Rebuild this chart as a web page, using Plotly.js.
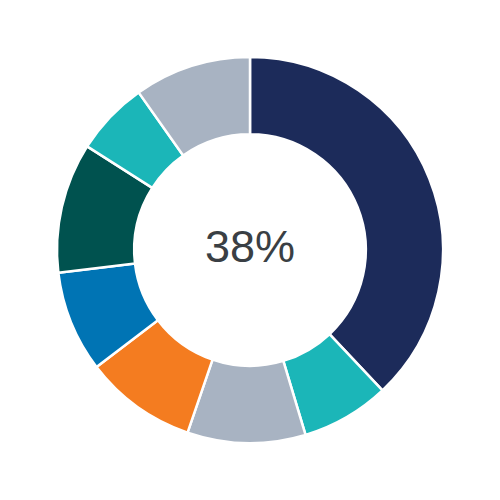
<!DOCTYPE html>
<html>
<head>
<meta charset="utf-8">
<script src="https://cdn.plot.ly/plotly-3.0.1.min.js"></script>
<style>
  html, body { margin: 0; padding: 0; background: #fff; }
  #chart { width: 500px; height: 500px; }
</style>
</head>
<body>
<div id="chart"></div>
<script>
// slice shares, clockwise from 12 o'clock
const segments = ['A', 'B', 'C', 'D', 'E', 'F', 'G', 'H'];
const shares = [38, 7.4, 9.9, 9.4, 8.5, 10.9, 6.2, 9.8];
const sliceColors = ['#1c2b5a', '#1bb6b8', '#a8b3c2', '#f47c20', '#0074b4', '#00524f', '#1bb6b8', '#a8b3c2'];
const centerLabel = '38%';

Plotly.newPlot('chart', [{
    type: 'pie',
    labels: segments,
    values: shares,
    hole: 0.6,
    sort: false,
    direction: 'clockwise',
    rotation: 0,
    textinfo: 'none',
    hoverinfo: 'none',
    marker: { colors: sliceColors, line: { color: '#ffffff', width: 2.5 } }
}], {
    width: 500,
    height: 500,
    margin: { l: 57, r: 57, t: 57, b: 57 },
    paper_bgcolor: '#ffffff',
    showlegend: false,
    annotations: [{
        text: centerLabel,
        x: 0.5, y: 0.5,
        xref: 'paper', yref: 'paper',
        yshift: 4,
        showarrow: false,
        font: { family: 'Liberation Sans, Arial, sans-serif', size: 45, color: '#3a3f44' }
    }]
}, { staticPlot: true });
</script>
</body>
</html>
